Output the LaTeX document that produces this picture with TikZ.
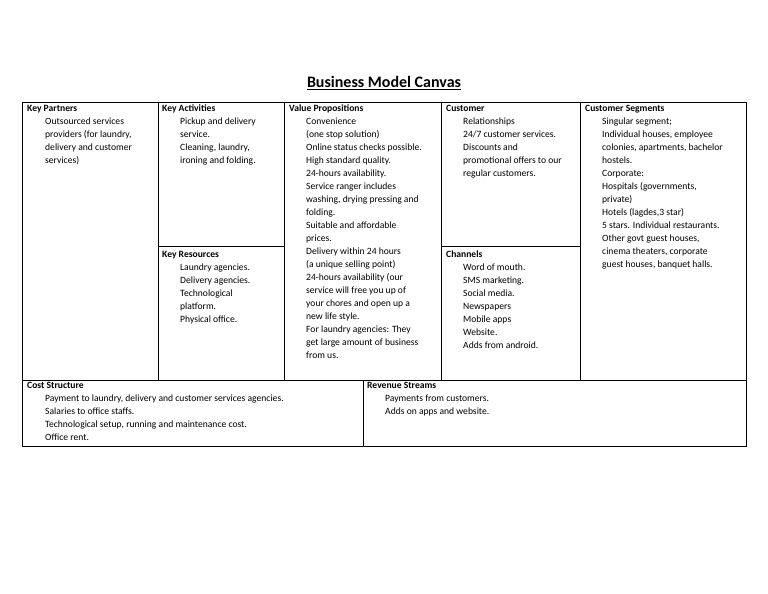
\documentclass[tikz,border=0pt]{standalone}
\usepackage{fontspec}
\setmainfont{Carlito}
\begin{document}
\begin{tikzpicture}[x=1pt,y=-1pt,
  hd/.style={anchor=north west,inner sep=0pt,font=\fontsize{9.6}{13}\selectfont\bfseries},
  bd/.style={anchor=north west,inner sep=0pt,align=left,font=\fontsize{9.6}{13}\selectfont},
  ln/.style={line width=0.8pt}]
\useasboundingbox (0,0) rectangle (768,594);
\node[font=\fontsize{16}{18}\selectfont\bfseries] (title) at (384,83) {\underline{Business Model Canvas}};
\draw[ln] (22,102) rectangle (746,446);
\draw[ln] (22,380) -- (746,380);
\draw[ln] (158,102) -- (158,380);
\draw[ln] (284,102) -- (284,380);
\draw[ln] (441,102) -- (441,380);
\draw[ln] (580,102) -- (580,380);
\draw[ln] (158,246) -- (284,246);
\draw[ln] (441,246) -- (580,246);
\draw[ln] (363,380) -- (363,446);
\node[hd] (kp) at (27,105) {Key Partners};
\node[bd] (kpb) at (45,118) {Outsourced services\\providers (for laundry,\\delivery and customer\\services)};
\node[hd] (ka) at (162,105) {Key Activities};
\node[bd] (kab) at (180,118) {Pickup and delivery\\service.\\Cleaning, laundry,\\ironing and folding.};
\node[hd] (vp) at (289,105) {Value Propositions};
\node[bd] (vpb) at (306,118) {Convenience\\(one stop solution)\\Online status checks possible.\\High standard quality.\\24-hours availability.\\Service ranger includes\\washing, drying pressing and\\folding.\\Suitable and affordable\\prices.\\Delivery within 24 hours\\(a unique selling point)\\24-hours availability (our\\service will free you up of\\your chores and open up a\\new life style.\\For laundry agencies: They\\get large amount of business\\from us.};
\node[hd] (cu) at (446,105) {Customer};
\node[bd] (cub) at (463,118) {Relationships\\24/7 customer services.\\Discounts and\\promotional offers to our\\regular customers.};
\node[hd] (cs) at (585,105) {Customer Segments};
\node[bd] (csb) at (602,118) {Singular segment;\\Individual houses, employee\\colonies, apartments, bachelor\\hostels.\\Corporate:\\Hospitals (governments,\\private)\\Hotels (lagdes,3 star)\\5 stars. Individual restaurants.\\Other govt guest houses,\\cinema theaters, corporate\\guest houses, banquet halls.};
\node[hd] (kr) at (162,251) {Key Resources};
\node[bd] (krb) at (180,264) {Laundry agencies.\\Delivery agencies.\\Technological\\platform.\\Physical office.};
\node[hd] (ch) at (446,251) {Channels};
\node[bd] (chb) at (463,264) {Word of mouth.\\SMS marketing.\\Social media.\\Newspapers\\Mobile apps\\Website.\\Adds from android.};
\node[hd] (co) at (27,382) {Cost Structure};
\node[bd] (cob) at (45,395) {Payment to laundry, delivery and customer services agencies.\\Salaries to office staffs.\\Technological setup, running and maintenance cost.\\Office rent.};
\node[hd] (rs) at (367,382) {Revenue Streams};
\node[bd] (rsb) at (385,395) {Payments from customers.\\Adds on apps and website.};
\end{tikzpicture}
\end{document}
